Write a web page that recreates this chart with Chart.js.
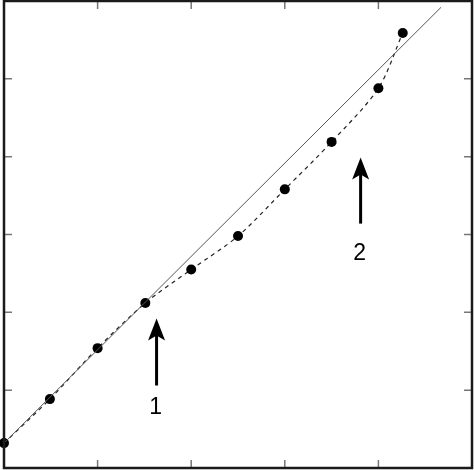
<!DOCTYPE html>
<html>
<head>
<meta charset="utf-8">
<style>
html,body{margin:0;padding:0;background:#fff;}
#wrap{width:474px;height:470px;}
</style>
<script src="https://cdn.jsdelivr.net/npm/chart.js@4/dist/chart.umd.min.js"></script>
</head>
<body>
<div id="wrap"><canvas id="c" width="474" height="470"></canvas></div>
<script>
// Data
const pointX = [0, 0.49, 1.0, 1.51, 2.0, 2.5, 3.0, 3.5, 4.0, 4.26];
const pointY = [0.32, 0.885, 1.54, 2.12, 2.55, 2.98, 3.58, 4.19, 4.88, 5.59];
const refLineX = [0, 4.67];
const refLineY = [0.32, 5.92];
const xTicks = [1, 2, 3, 4];
const yTicks = [1, 2, 3, 4, 5];
const arrowLabels = ['1', '2'];
const arrowX = [1.63, 3.81];
const arrowTipY = [1.92, 3.99];
const arrowTailY = [1.06, 3.14];
const labelY = [0.77, 2.76];

const pts = pointX.map((x, i) => ({x, y: pointY[i]}));
const ref = refLineX.map((x, i) => ({x, y: refLineY[i]}));

const decor = {
  id: 'decor',
  afterDraw(chart) {
    const ctx = chart.ctx, a = chart.chartArea;
    const xs = chart.scales.x, ys = chart.scales.y;
    ctx.save();
    // ticks
    ctx.strokeStyle = '#777';
    ctx.lineWidth = 1.5;
    const L = 8;
    xTicks.forEach(v => {
      const px = xs.getPixelForValue(v);
      ctx.beginPath();
      ctx.moveTo(px, a.bottom); ctx.lineTo(px, a.bottom - L);
      ctx.moveTo(px, a.top); ctx.lineTo(px, a.top + L);
      ctx.stroke();
    });
    yTicks.forEach(v => {
      const py = ys.getPixelForValue(v);
      ctx.beginPath();
      ctx.moveTo(a.left, py); ctx.lineTo(a.left + L, py);
      ctx.moveTo(a.right, py); ctx.lineTo(a.right - L, py);
      ctx.stroke();
    });
    // frame
    ctx.strokeStyle = '#1a1a1a';
    ctx.lineWidth = 2.5;
    ctx.strokeRect(a.left, a.top, a.right - a.left, a.bottom - a.top);
    // arrows
    ctx.fillStyle = '#000';
    ctx.strokeStyle = '#000';
    arrowLabels.forEach((lab, i) => {
      const px = xs.getPixelForValue(arrowX[i]);
      const tip = ys.getPixelForValue(arrowTipY[i]);
      const tail = ys.getPixelForValue(arrowTailY[i]);
      ctx.lineWidth = 3;
      ctx.beginPath();
      ctx.moveTo(px, tail); ctx.lineTo(px, tip + 14);
      ctx.stroke();
      ctx.beginPath();
      ctx.moveTo(px, tip);
      ctx.lineTo(px - 8.5, tip + 22);
      ctx.lineTo(px, tip + 17);
      ctx.lineTo(px + 8.5, tip + 22);
      ctx.closePath();
      ctx.fill();
      ctx.font = '23px "Liberation Sans", Arial, sans-serif';
      ctx.textAlign = 'center';
      ctx.textBaseline = 'middle';
      ctx.fillText(lab, px - 1, ys.getPixelForValue(labelY[i]));
    });
    ctx.restore();
  }
};

new Chart(document.getElementById('c'), {
  type: 'scatter',
  data: {
    datasets: [
      {
        data: ref,
        showLine: true,
        borderColor: '#555',
        borderWidth: 1,
        pointRadius: 0,
        tension: 0,
        clip: false
      },
      {
        data: pts,
        showLine: true,
        borderColor: '#222',
        borderWidth: 1.2,
        borderDash: [4, 4],
        tension: 0.3,
        pointRadius: 5,
        pointBackgroundColor: '#000',
        pointBorderColor: '#000',
        pointBorderWidth: 0,
        clip: false
      }
    ]
  },
  options: {
    responsive: false,
    animation: false,
    devicePixelRatio: 1,
    layout: {autoPadding: false, padding: {left: 4, right: 2, top: 1, bottom: 2}},
    plugins: {legend: {display: false}, tooltip: {enabled: false}},
    scales: {
      x: {type: 'linear', min: 0, max: 5, display: false},
      y: {type: 'linear', min: 0, max: 6, display: false}
    }
  },
  plugins: [decor]
});
</script>
</body>
</html>
